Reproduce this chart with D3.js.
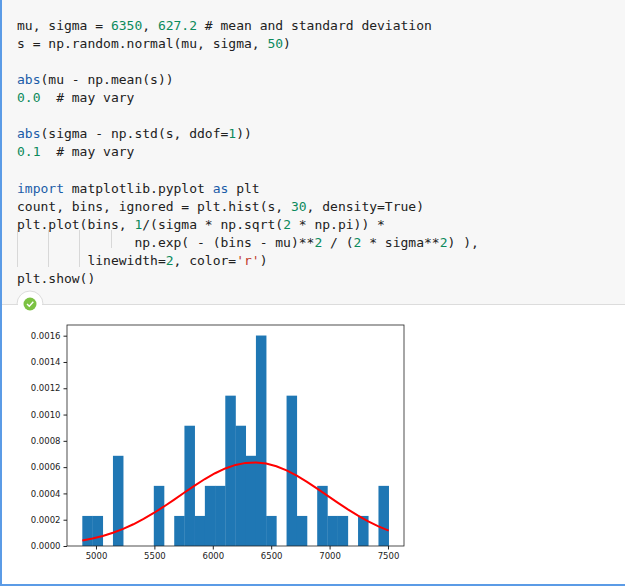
<!DOCTYPE html>
<html><head><meta charset="utf-8">
<script src="https://cdn.jsdelivr.net/npm/d3@7"></script>
<style>body{margin:0;background:#fff;}svg{display:block;}</style>
</head><body>
<svg id="c" width="625" height="586"></svg>
<script>
// Code lines as tokens: [text, kind]
const codeLines = [
  [["mu, sigma = ","t"],["6350","n"],[", ","t"],["627.2","n"],[" # mean and standard deviation","t"]],
  [["s = np.random.normal(mu, sigma, ","t"],["50","n"],[")","t"]],
  [],
  [["abs","k"],["(mu - np.mean(s))","t"]],
  [["0.0","n"],["  # may vary","t"]],
  [],
  [["abs","k"],["(sigma - np.std(s, ddof=","t"],["1","n"],["))","t"]],
  [["0.1","n"],["  # may vary","t"]],
  [],
  [["import","k"],[" matplotlib.pyplot ","t"],["as","k"],[" plt","t"]],
  [["count, bins, ignored = plt.hist(s, ","t"],["30","n"],[", density=True)","t"]],
  [["plt.plot(bins, ","t"],["1","n"],["/(sigma * np.sqrt(","t"],["2","n"],[" * np.pi)) *","t"]],
  [["               np.exp( - (bins - mu)**","t"],["2","n"],[" / (","t"],["2","n"],[" * sigma**","t"],["2","n"],[") ),","t"]],
  [["         linewidth=","t"],["2","n"],[", color=","t"],["'r'","s"],[")","t"]],
  [["plt.show()","t"]]
];
// Histogram data
const binStart = 4883, binEnd = 7506, nBins = 30, nSamples = 50;
const counts = [1,1,0,3,0,0,0,2,0,1,4,1,2,2,5,4,3,7,1,0,5,1,0,2,1,1,0,1,0,2];
const mu = 6350, sigma = 627.2;
const xTicks = [5000,5500,6000,6500,7000,7500];
const yTicks = [0,0.0002,0.0004,0.0006,0.0008,0.0010,0.0012,0.0014,0.0016];

const svg = d3.select("#c");
const colors = {t:"#212121", n:"#0c8a5c", k:"#1a5ca8", s:"#c0392b"};
// cell
svg.append("rect").attr("x",0).attr("y",0).attr("width",625).attr("height",304).attr("fill","#f7f7f7");
svg.append("line").attr("x1",2).attr("x2",625).attr("y1",304.5).attr("y2",304.5).attr("stroke","#dcdcdc");
svg.append("rect").attr("x",0).attr("y",0).attr("width",2).attr("height",586).attr("fill","#5b9be6");
svg.append("rect").attr("x",0).attr("y",584).attr("width",625).attr("height",2).attr("fill","#5b9be6");
// indent guides
[17,48,79,111].forEach((x,i)=>{
  svg.append("line").attr("x1",x+0.5).attr("x2",x+0.5).attr("y1",230).attr("y2", i==3?248:267).attr("stroke","#d8d8d8");
});
const code = svg.append("g").attr("font-family","DejaVu Sans Mono, Liberation Mono, monospace").attr("font-size","13px");
codeLines.forEach((toks,i)=>{
  if(!toks.length) return;
  const t = code.append("text").attr("x",17).attr("y",30+i*18.07).attr("xml:space","preserve").style("white-space","pre");
  toks.forEach(([s,k])=>t.append("tspan").attr("fill",colors[k]).text(s));
});
// check badge
svg.append("path").attr("d","M17,304 A13,13 0 0 1 43,304").attr("fill","#fff").attr("stroke","#dcdcdc");
svg.append("rect").attr("x",18).attr("y",304).attr("width",24).attr("height",2).attr("fill","#fff");
svg.append("circle").attr("cx",30).attr("cy",304).attr("r",6.5).attr("fill","#7cc243");
svg.append("path").attr("d","M27,304 L29.3,306.3 L33.3,301.8").attr("fill","none").attr("stroke","#fff").attr("stroke-width",1.4);

// chart
const L=67,R=404,T=325,B=546;
const bw=(binEnd-binStart)/nBins;
const dens = counts.map(c=>c/(nSamples*bw));
const pad=(binEnd-binStart)*0.05;
const x=d3.scaleLinear().domain([binStart-pad,binEnd+pad]).range([L,R]);
const y=d3.scaleLinear().domain([0,d3.max(dens)*1.05]).range([B,T]);
const g=svg.append("g");
g.selectAll("rect.bar").data(dens).join("rect").attr("class","bar")
  .attr("x",(d,i)=>x(binStart+i*bw)).attr("width",(d,i)=>x(binStart+(i+1)*bw)-x(binStart+i*bw)+0.3)
  .attr("y",d=>y(d)).attr("height",d=>B-y(d)).attr("fill","#1f77b4");
const edges=d3.range(nBins+1).map(i=>binStart+i*bw);
const pdf=v=>1/(sigma*Math.sqrt(2*Math.PI))*Math.exp(-((v-mu)**2)/(2*sigma**2));
g.append("path").datum(edges).attr("d",d3.line().x(d=>x(d)).y(d=>y(pdf(d))))
  .attr("fill","none").attr("stroke","#ff0000").attr("stroke-width",2);
const fx="DejaVu Sans, sans-serif";
const ax=g.append("g").attr("transform",`translate(0,${B})`).call(d3.axisBottom(x).tickValues(xTicks).tickSize(3.5).tickPadding(3).tickFormat(d3.format("d")));
const ay=g.append("g").attr("transform",`translate(${L},0)`).call(d3.axisLeft(y).tickValues(yTicks).tickSize(3.5).tickPadding(3).tickFormat(d3.format(".4f")));
[ax,ay].forEach(a=>{a.select(".domain").remove();a.selectAll("text").attr("font-family",fx).attr("font-size","8.5px").attr("fill","#222");a.selectAll("line").attr("stroke","#222");});
g.append("rect").attr("x",L).attr("y",T).attr("width",R-L).attr("height",B-T).attr("fill","none").attr("stroke","#222").attr("stroke-width",0.8);
</script>
</body></html>
